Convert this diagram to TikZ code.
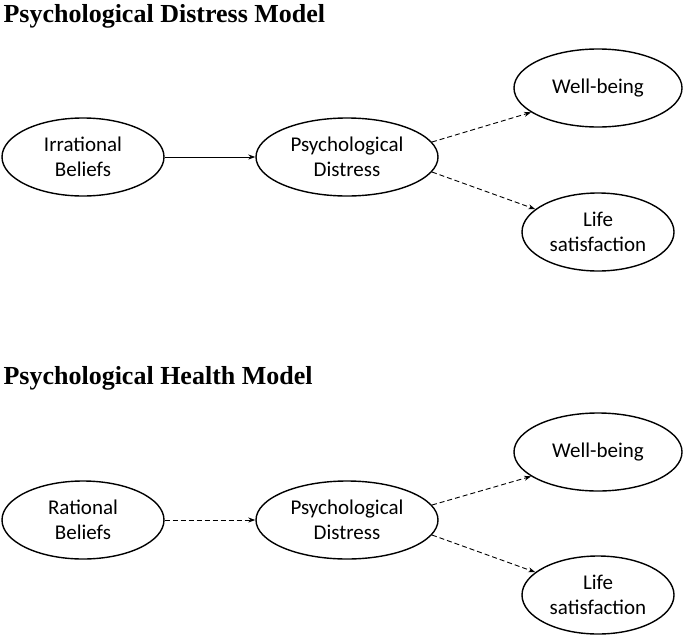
\documentclass[tikz,border=0pt]{standalone}
\usepackage{fontspec}
\setmainfont{Carlito}
\newfontfamily\titlefont{Liberation Serif}
\usetikzlibrary{shapes.geometric,arrows.meta}
\begin{document}
\begin{tikzpicture}[x=1pt,y=-1pt,
  ell/.style={ellipse,draw,line width=1.4pt,minimum width=#1,minimum height=78pt,align=center,font=\fontsize{21}{25}\selectfont,inner sep=0pt},
  ttl/.style={anchor=west,font=\titlefont\bfseries\fontsize{26}{30}\selectfont},
  arr/.style={-{Stealth[length=7pt,width=5pt]},line width=0.9pt},
  darr/.style={arr,dashed,dash pattern=on 5pt off 3pt}]
\useasboundingbox (0,0) rectangle (685,640);
\node[ttl] (t1) at (0,16) {Psychological Distress Model};
\node[ell=162pt] (ib) at (83,157) {Irrational\\Beliefs};
\node[ell=182pt] (pd1) at (347,157) {Psychological\\Distress};
\node[ell=168pt] (wb1) at (598,88) {Well-being};
\node[ell=152pt] (ls1) at (598,232) {Life\\satisfaction};
\draw[arr] (ib) -- (pd1);
\draw[darr] (pd1.10) -- (wb1.200);
\draw[darr] (pd1.-10) -- (ls1.160);
\node[ttl] (t2) at (0,378) {Psychological Health Model};
\node[ell=162pt] (rb) at (83,520) {Rational\\Beliefs};
\node[ell=182pt] (pd2) at (347,520) {Psychological\\Distress};
\node[ell=168pt] (wb2) at (598,452) {Well-being};
\node[ell=152pt] (ls2) at (598,595) {Life\\satisfaction};
\draw[darr] (rb) -- (pd2);
\draw[darr] (pd2.10) -- (wb2.200);
\draw[darr] (pd2.-10) -- (ls2.160);
\end{tikzpicture}
\end{document}
